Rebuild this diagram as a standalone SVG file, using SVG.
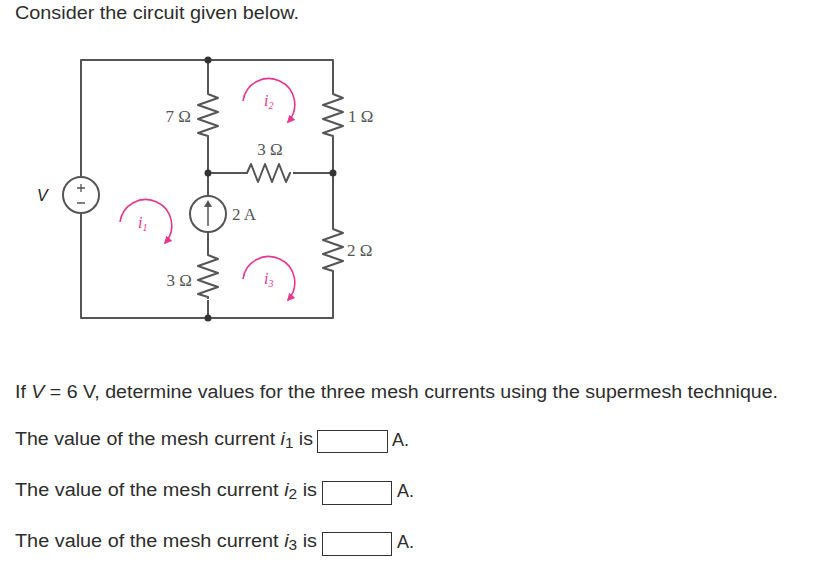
<svg xmlns="http://www.w3.org/2000/svg" width="839" height="570" viewBox="0 0 839 570">
<style>
.w{fill:none;stroke:#555;stroke-width:2;stroke-linejoin:round}
.t{font-family:"Liberation Sans",Arial,sans-serif;font-size:18px;fill:#2d2d2d}
.c{font-family:"Liberation Serif",serif;font-size:17px;fill:#555}
.m{fill:none;stroke:#e8368f;stroke-width:1.6}
.ml{font-family:"Liberation Serif",serif;font-style:italic;font-size:16px;fill:#e8368f}
.b{fill:#fff;stroke:#333;stroke-width:1}
</style>
<defs>
<marker id="ah" viewBox="0 0 10 10" refX="8" refY="5" markerWidth="5" markerHeight="5" orient="auto"><path d="M0,0L10,5L0,10z" fill="#e8368f"/></marker>
<path id="rv" d="M0,0 l0,2 l10,4 l-20,7 l20,7 l-20,7 l20,7 l-20,7 l10,3 l0,2"/>
</defs>
<rect width="839" height="570" fill="#fff"/>
<text class="t" x="15" y="19" textLength="284" lengthAdjust="spacingAndGlyphs">Consider the circuit given below.</text>
<g id="wires">
<path class="w" d="M81,177 V60 H333 V92 M333,138 V227 M333,273 V318 H81 V213"/>
<path class="w" d="M208,60 V92 M208,138 V196 M208,232 V253 M208,300 V318"/>
<path class="w" d="M208,173 H245 M293,173 H333"/>
</g>
<g id="V"><circle cx="81" cy="195" r="18" fill="#fff" stroke="#555" stroke-width="2"/><path d="M77,188 h8 M81,184 v8 M77,203 h8" stroke="#555" stroke-width="1.3"/><text x="37" y="201" font-family="Liberation Sans,sans-serif" font-style="italic" font-size="16" fill="#222">V</text></g>
<g id="R7"><use href="#rv" x="208" y="92" class="w"/><text class="c" x="191" y="122" text-anchor="end">7 Ω</text></g>
<g id="R1"><use href="#rv" x="333" y="92" class="w"/><text class="c" x="348" y="122">1 Ω</text></g>
<g id="R3h"><path class="w" d="M245,173 l2,0 l4,-9 l7,18 l7,-18 l7,18 l7,-18 l7,18 l4,-9 l1,0"/><text class="c" x="270" y="155" text-anchor="middle">3 Ω</text></g>
<g id="I2A"><circle cx="208" cy="214" r="18" fill="#fff" stroke="#555" stroke-width="2"/><path d="M208,226 V204" stroke="#555" stroke-width="1.5"/><path d="M204,207 L208,200 L212,207z" fill="#555"/><text class="c" x="232" y="220">2 A</text></g>
<g id="R2"><use href="#rv" x="333" y="227" class="w"/><text class="c" x="347" y="256">2 Ω</text></g>
<g id="R3v"><use href="#rv" x="208" y="253" class="w"/><text class="c" x="192" y="286" text-anchor="end">3 Ω</text></g>
<g id="dots" fill="#333"><circle cx="208" cy="60" r="3.5"/><circle cx="208" cy="173" r="3.5"/><circle cx="333" cy="173" r="3.5"/><circle cx="208" cy="318" r="3.5"/></g>
<g id="meshes">
<path class="m" marker-end="url(#ah)" d="M243,101 A26,26 0 1 1 288,122"/><text class="ml" x="264" y="106">i<tspan font-size="10" dy="3">2</tspan></text>
<path class="m" marker-end="url(#ah)" d="M120,222 A26,26 0 1 1 165,243"/><text class="ml" x="138" y="228">i<tspan font-size="10" dy="3">1</tspan></text>
<path class="m" marker-end="url(#ah)" d="M243,279 A26,26 0 1 1 288,300"/><text class="ml" x="264" y="284">i<tspan font-size="10" dy="3">3</tspan></text>
</g>
<text class="t" x="15" y="398" textLength="763" lengthAdjust="spacingAndGlyphs">If <tspan font-style="italic">V</tspan> = 6 V, determine values for the three mesh currents using the supermesh technique.</text>
<text class="t" x="15" y="445" textLength="298" lengthAdjust="spacingAndGlyphs">The value of the mesh current <tspan font-style="italic">i</tspan><tspan font-size="14" dy="3">1</tspan><tspan dy="-3"> is</tspan></text>
<rect class="b" x="317.5" y="430.5" width="70" height="22"/><text class="t" x="392" y="446">A.</text>
<text class="t" x="15" y="496" textLength="302" lengthAdjust="spacingAndGlyphs">The value of the mesh current <tspan font-style="italic">i</tspan><tspan font-size="14" dy="3">2</tspan><tspan dy="-3"> is</tspan></text>
<rect class="b" x="322.5" y="481.5" width="69" height="23"/><text class="t" x="397" y="497">A.</text>
<text class="t" x="15" y="547" textLength="302" lengthAdjust="spacingAndGlyphs">The value of the mesh current <tspan font-style="italic">i</tspan><tspan font-size="14" dy="3">3</tspan><tspan dy="-3"> is</tspan></text>
<rect class="b" x="322.5" y="532.5" width="69" height="23"/><text class="t" x="397" y="548">A.</text>
</svg>
